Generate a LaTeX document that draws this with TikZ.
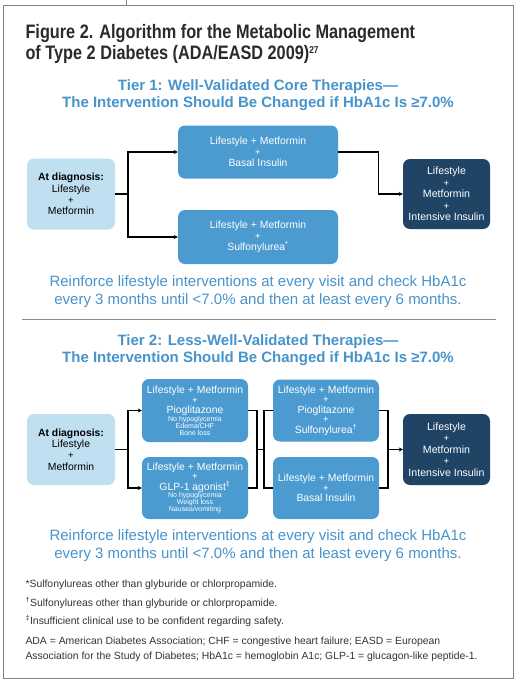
\documentclass[tikz,border=0pt]{standalone}
\usepackage{fontspec}
\setmainfont{Liberation Sans}
\newfontfamily\titlefont[FakeStretch=0.835]{Liberation Sans}
\usetikzlibrary{arrows.meta}

\definecolor{midblue}{HTML}{4B9BD0}
\definecolor{paleblue}{HTML}{C0DFF0}
\definecolor{navy}{HTML}{1F4466}
\definecolor{headblue}{HTML}{4793CB}
\definecolor{titlegray}{HTML}{2A2A2A}

\newcommand{\sidenote}{\fontsize{7}{7}\selectfont}
\newcommand{\plusrow}{{\fontsize{9.5}{9.5}\selectfont +}}

\begin{document}
\begin{tikzpicture}[x=1pt,y=-1pt]
  \tikzset{stage box/.style={rounded corners=7pt,fill=#1,align=center,inner sep=0pt,text=white,font=\fontsize{10.4}{10.8}\selectfont}}
  \tikzset{heading/.style={align=center,text=headblue,font=\bfseries\fontsize{15}{17.5}\selectfont}}
  \tikzset{reminder/.style={align=center,text=headblue,font=\fontsize{15}{18}\selectfont}}
  \tikzset{footnote/.style={anchor=base west,align=left,text=black!80,font=\fontsize{10.4}{15}\selectfont}}
  \tikzset{flow/.style={line width=1.1pt},flow arrow/.style={flow,-{Stealth[length=4pt,width=4pt]}}}

  \useasboundingbox (0,0) rectangle (518,681);
  \draw[black!50,line width=0.8pt] (3,5) rectangle (513,678);
  \draw[black!50,line width=0.8pt] (126,0) -- (126,5);

  % title
  \node[anchor=base west,text=titlegray,font=\titlefont\bfseries\fontsize{19.5}{22}\selectfont] (title1) at (22,38) {Figure 2. Algorithm for the Metabolic Management};
  \node[anchor=base west,text=titlegray,font=\titlefont\bfseries\fontsize{19.5}{22}\selectfont] (title2) at (22,59) {of Type 2 Diabetes (ADA/EASD 2009)\raisebox{6pt}{\fontsize{10}{10}\selectfont 27}};

  % tier 1
  \node[heading] (tier1) at (258,95) {Tier 1: Well-Validated Core Therapies—\\The Intervention Should Be Changed if HbA1c Is ≥7.0\%};

  \node [stage box=paleblue,text=black,minimum width=88pt,minimum height=71pt,font=\fontsize{10.4}{11.2}\selectfont] (diag1) at (71,194) {\textbf{At diagnosis:}\\Lifestyle\\\plusrow\\Metformin};
  \node [stage box=midblue,minimum width=160pt,minimum height=53pt] (basal1) at (258,152) {Lifestyle + Metformin\\\plusrow\\Basal Insulin};
  \node [stage box=midblue,minimum width=160pt,minimum height=54pt] (sulfo1) at (258,237) {Lifestyle + Metformin\\\plusrow\\Sulfonylurea\textsuperscript{*}};
  \node [stage box=navy,minimum width=87pt,minimum height=70pt,font=\fontsize{10.6}{11.5}\selectfont] (intens1) at (446.5,194) {Lifestyle\\\plusrow\\Metformin\\\plusrow\\Intensive Insulin};

  \coordinate (split1) at (128,194);
  \draw[flow] (diag1.east) -- (split1);
  \draw[flow arrow] (split1) |- (basal1.west);
  \draw[flow arrow] (split1) |- (sulfo1.west);
  \draw[flow arrow] (basal1.east) -- ++(40,0) |- (intens1.west);

  \node[reminder] (remind1) at (258,292) {Reinforce lifestyle interventions at every visit and check HbA1c\\every 3 months until <7.0\% and then at least every 6 months.};

  \draw[black!45,line width=1pt] (22,319) -- (496,319);

  % tier 2
  \node[heading] (tier2) at (258,350) {Tier 2: Less-Well-Validated Therapies—\\The Intervention Should Be Changed if HbA1c Is ≥7.0\%};

  \node [stage box=paleblue,text=black,minimum width=88pt,minimum height=71pt,font=\fontsize{10.4}{11.2}\selectfont] (diag2) at (71,449.5) {\textbf{At diagnosis:}\\Lifestyle\\\plusrow\\Metformin};
  \node [stage box=midblue,minimum width=106pt,minimum height=63pt] (pio2) at (195,410.5) {Lifestyle + Metformin\\[-1pt]\plusrow\\[-0.5pt]Pioglitazone\\[-3pt]{\sidenote No hypoglycemia}\\[-3.8pt]{\sidenote Edema/CHF}\\[-3.8pt]{\sidenote Bone loss}};
  \node [stage box=midblue,minimum width=106pt,minimum height=62pt] (glp2) at (195,488) {Lifestyle + Metformin\\[-1pt]\plusrow\\[-0.5pt]GLP-1 agonist\textsuperscript{‡}\\[-3pt]{\sidenote No hypoglycemia}\\[-3.8pt]{\sidenote Weight loss}\\[-3.8pt]{\sidenote Nausea/vomiting}};
  \node [stage box=midblue,minimum width=106pt,minimum height=62pt] (piosu2) at (326,410.5) {Lifestyle + Metformin\\[-1pt]\plusrow\\[-0.5pt]Pioglitazone\\[-1pt]\plusrow\\[-0.5pt]Sulfonylurea\textsuperscript{†}};
  \node [stage box=midblue,minimum width=106pt,minimum height=62pt] (basal2) at (326,488) {Lifestyle + Metformin\\[-1pt]\plusrow\\[-0.5pt]Basal Insulin};
  \node [stage box=navy,minimum width=87pt,minimum height=71pt,font=\fontsize{10.6}{11.5}\selectfont] (intens2) at (446.5,449.5) {Lifestyle\\\plusrow\\Metformin\\\plusrow\\Intensive Insulin};

  \coordinate (split2) at (128,449.5);
  \coordinate (merge2) at (257,449.5);
  \coordinate (split3) at (264,449.5);
  \coordinate (merge3) at (388,449.5);
  \draw[flow] (diag2.east) -- (split2);
  \draw[flow arrow] (split2) |- (pio2.west);
  \draw[flow arrow] (split2) |- (glp2.west);
  \draw[flow] (pio2.east) -| (merge2);
  \draw[flow] (glp2.east) -| (merge2);
  \draw[flow] (merge2) -- (split3);
  \draw[flow] (split3) |- (piosu2.west);
  \draw[flow] (split3) |- (basal2.west);
  \draw[flow] (piosu2.east) -| (merge3);
  \draw[flow] (basal2.east) -| (merge3);
  \draw[flow arrow] (merge3) -- (intens2.west);

  \node[reminder] (remind2) at (258,546) {Reinforce lifestyle interventions at every visit and check HbA1c\\every 3 months until <7.0\% and then at least every 6 months.};

  % footnotes
  \node[footnote] (note1) at (22,587) {*Sulfonylureas other than glyburide or chlorpropamide.};
  \node[footnote] (note2) at (22,606) {\textsuperscript{†}Sulfonylureas other than glyburide or chlorpropamide.};
  \node[footnote] (note3) at (22,624) {\textsuperscript{‡}Insufficient clinical use to be confident regarding safety.};
  \node[footnote] (abbr) at (22,659) {ADA = American Diabetes Association; CHF = congestive heart failure; EASD = European\\Association for the Study of Diabetes; HbA1c = hemoglobin A1c; GLP-1 = glucagon-like peptide-1.};
\end{tikzpicture}
\end{document}
